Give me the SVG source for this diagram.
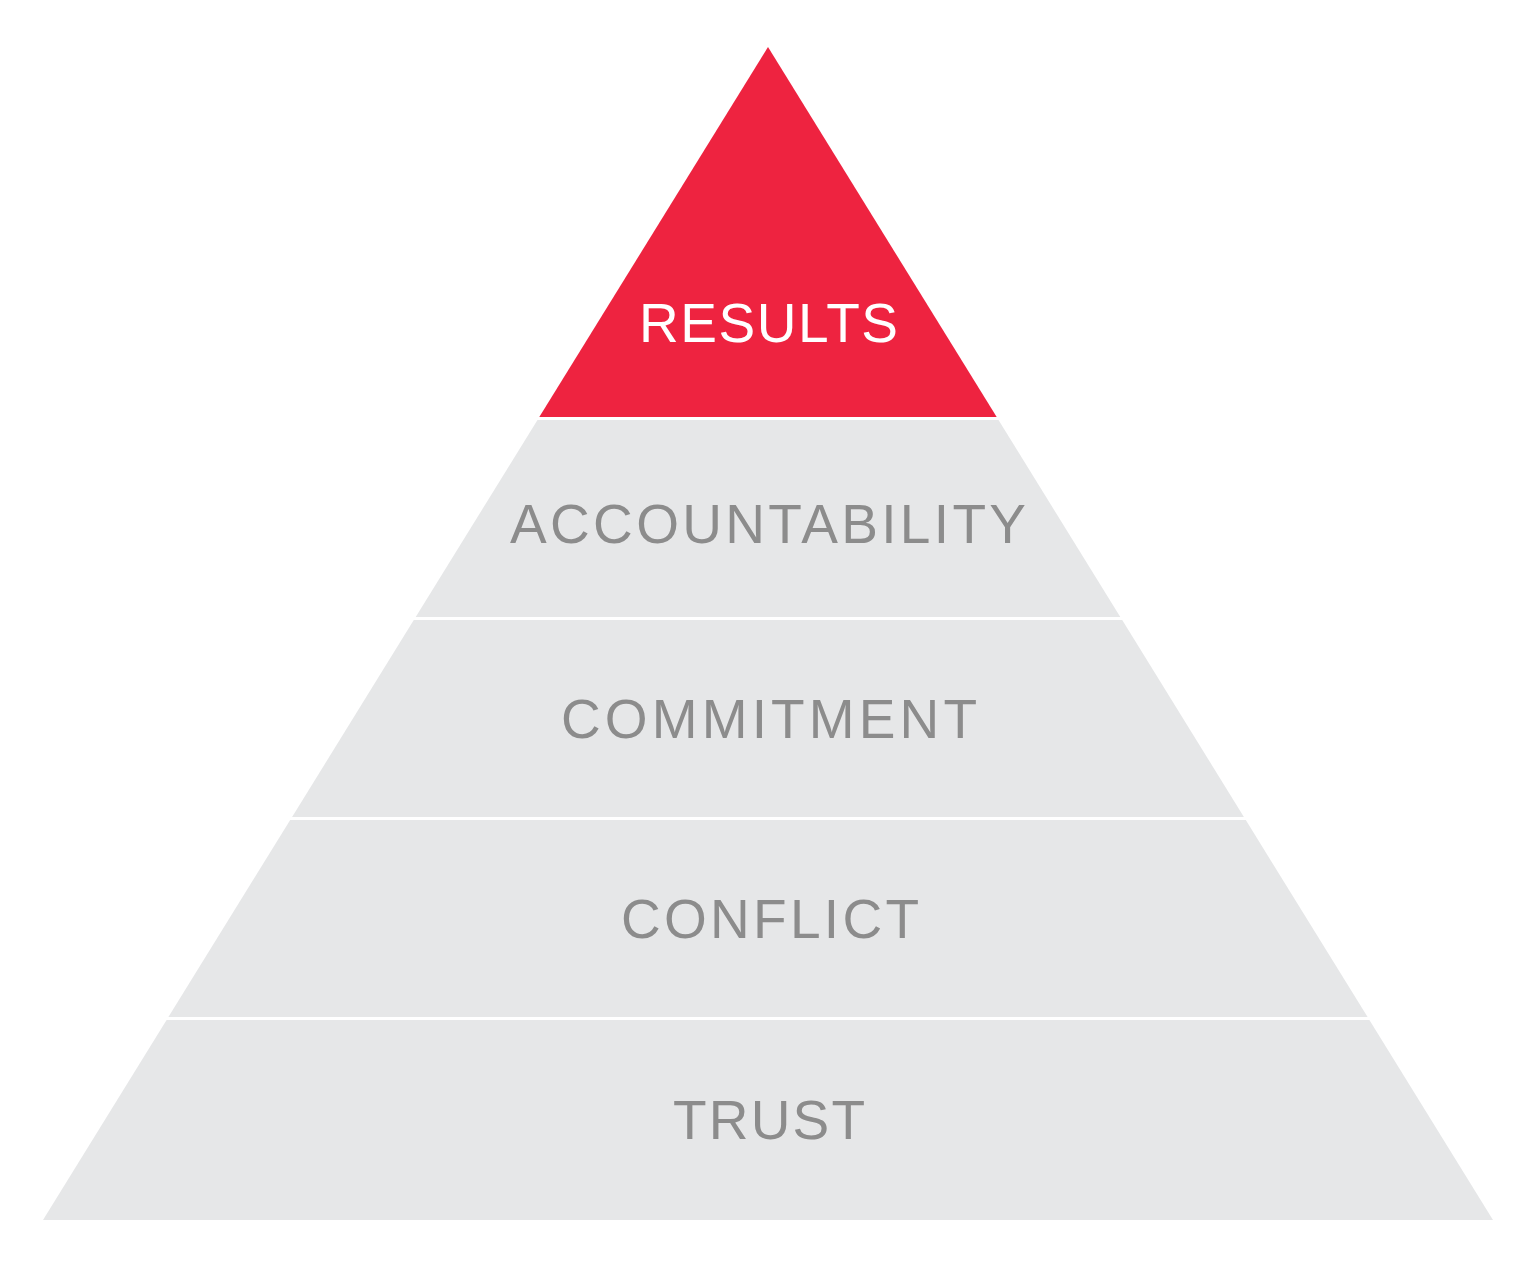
<svg xmlns="http://www.w3.org/2000/svg" width="1536" height="1267" viewBox="0 0 1536 1267">
<style>
.band{fill:#e6e7e8}
.top{fill:#ee2340}
.lbl{font-family:"Liberation Sans",Arial,sans-serif;font-size:55px;text-anchor:middle;fill:#8c8c8c}
.lbl-top{fill:#ffffff}
</style>
<rect x="0" y="0" width="1536" height="1267" fill="#ffffff"/>
<g id="results">
<polygon class="top" points="768,47 996.7,417 539.3,417"/>
<text class="lbl lbl-top" x="768.5" y="342" textLength="259" lengthAdjust="spacing">RESULTS</text>
</g>
<g id="accountability">
<polygon class="band" points="537.5,420 998.5,420 1120.3,617 415.7,617"/>
<text class="lbl" x="768" y="543" textLength="516" lengthAdjust="spacing">ACCOUNTABILITY</text>
</g>
<g id="commitment">
<polygon class="band" points="413.8,620 1122.2,620 1243.9,817 292.1,817"/>
<text class="lbl" x="769" y="738" textLength="416" lengthAdjust="spacing">COMMITMENT</text>
</g>
<g id="conflict">
<polygon class="band" points="290.2,820 1245.8,820 1367.6,1017 168.4,1017"/>
<text class="lbl" x="770" y="938" textLength="298" lengthAdjust="spacing">CONFLICT</text>
</g>
<g id="trust">
<polygon class="band" points="166.6,1020 1369.4,1020 1493,1220 43,1220"/>
<text class="lbl" x="769" y="1139" textLength="192" lengthAdjust="spacing">TRUST</text>
</g>
<g id="connectors"/>
</svg>
